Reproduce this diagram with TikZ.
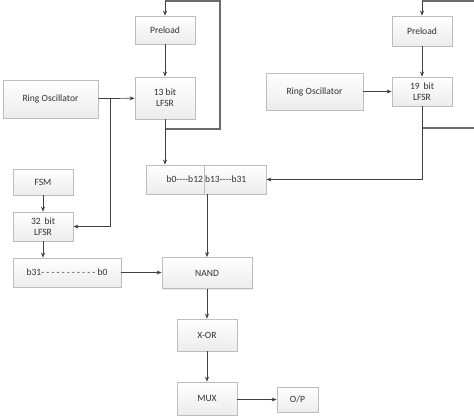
\documentclass[tikz,border=0pt]{standalone}
\usepackage{fontspec}
\setmainfont{Carlito}
\usetikzlibrary{shadows,arrows.meta}
\definecolor{lnc}{HTML}{404040}
\definecolor{fbc}{HTML}{6A6A6A}
\definecolor{bdc}{HTML}{BDBDBD}
\begin{document}
\begin{tikzpicture}[x=1pt,y=-1pt,
  blk/.style={draw=bdc, line width=0.8pt, top color=white, bottom color=gray!15,
    inner sep=0pt, align=center, font=\fontsize{9.6}{11}\selectfont, text=black!80,
    drop shadow={opacity=0.18, shadow xshift=1pt, shadow yshift=-1.2pt}},
  con/.style={draw=lnc, line width=0.7pt},
  arr/.style={con, -{Stealth[length=5pt,width=4pt]}},
  fb/.style={draw=fbc, line width=1.6pt},
]
\useasboundingbox (0,0) rectangle (474,416);
% left column
\node[blk, minimum width=60, minimum height=28] (pre1) at (165,30) {Preload};
\node[blk, minimum width=60, minimum height=42] (l13) at (165,98) {13 bit\\LFSR};
\node[blk, minimum width=95, minimum height=38] (ro1) at (50.5,99) {Ring Oscillator};
% right column
\node[blk, minimum width=60, minimum height=30] (pre2) at (422,31) {Preload};
\node[blk, minimum width=60, minimum height=29] (l19) at (422,91.5) {19\, bit\\LFSR};
\node[blk, minimum width=97, minimum height=37] (ro2) at (314.5,91.5) {Ring Oscillator};
% split register
\node[blk, text width=56, align=right, minimum height=29, inner xsep=1pt] (sl) at (175,179.5) {b0-{}-{}-{}-b12};
\node[blk, text width=60, align=left, minimum height=29, inner xsep=1pt] (sr) at (235,179.5) {b13-{}-{}-{}-b31};
% FSM chain
\node[blk, minimum width=60, minimum height=26] (fsm) at (43,182) {FSM};
\node[blk, minimum width=60, minimum height=29] (l32) at (43,226.5) {32\, bit\\LFSR};
\node[blk, minimum width=108, minimum height=29] (b31) at (67,272.5) {b31- - - - - - - - - - - b0};
% output chain
\node[blk, minimum width=90, minimum height=31] (nand) at (207,273) {NAND};
\node[blk, minimum width=60, minimum height=32] (xor) at (207,335) {X-OR};
\node[blk, minimum width=60, minimum height=33] (mux) at (207,398.5) {MUX};
\node[blk, minimum width=41, minimum height=25] (op) at (297.5,399.5) {O/P};

% feedback loops
\coordinate (t1) at (165,1);
\coordinate (c1) at (220,1);
\coordinate (c2) at (220,129);
\draw[fb] (l13.south |- c2) -- (c2) -- (c1) -- (t1);
\draw[arr] (t1) -- (pre1.north);
\coordinate (t2) at (422,1);
\coordinate (e2) at (474,1);
\draw[fb] (e2) -- (t2);
\draw[arr] (t2) -- (pre2.north);
\coordinate (e3) at (474,128);
\draw[fb] (l19.south |- e3) -- (e3);

% connectors
\draw[arr] (pre1) -- (l13);
\draw[arr] (pre2) -- (l19);
\draw[arr] (ro1) -- (l13);
\draw[arr] (ro2) -- (l19);
\coordinate (br) at (110,99);
\draw[arr] (br) |- (l32.east);
\draw[arr] (l13.south) -- (l13.south |- sl.north);
\draw[arr] (l19.south) |- (sr.east);
\draw[arr] (fsm) -- (l32);
\draw[arr] (l32) -- (b31.north -| l32);
\draw[arr] (b31.east) -- (b31.east -| nand.west);
\draw[arr] (nand.north |- sl.south) -- (nand.north);
\draw[arr] (nand) -- (xor);
\draw[arr] (xor) -- (mux);
\draw[arr] (mux.east |- op.west) -- (op.west);
\end{tikzpicture}
\end{document}
